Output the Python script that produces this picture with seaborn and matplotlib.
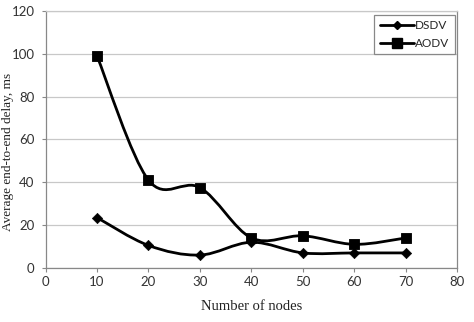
import numpy as np
import pandas as pd
import matplotlib
matplotlib.use("Agg")
import matplotlib.pyplot as plt
from matplotlib.path import Path
from matplotlib.patches import PathPatch
from matplotlib.lines import Line2D
import seaborn as sns

nodes = [10, 20, 30, 40, 50, 60, 70]
dsdv = [23.5, 10.5, 6.0, 12.0, 7.0, 7.0, 7.0]
aodv = [99.0, 41.0, 37.5, 14.0, 15.0, 11.0, 14.0]
x_ticks = [0, 10, 20, 30, 40, 50, 60, 70, 80]
y_ticks = [0, 20, 40, 60, 80, 100, 120]

df = pd.DataFrame({
    "nodes": nodes * 2,
    "delay": dsdv + aodv,
    "protocol": ["DSDV"] * len(nodes) + ["AODV"] * len(nodes),
})

sns.set_theme(style="white")
tick_font = ["Lato", "DejaVu Sans"]
label_font = ["Liberation Serif", "DejaVu Serif"]

fig = plt.figure(figsize=(4.74, 3.22), dpi=100)
ax = fig.add_axes([0.096, 0.168, 0.869, 0.798])


def smooth_path(xs, ys):
    # Excel-style smoothed line: cubic Bezier segments between data points
    pts = np.column_stack([xs, ys]).astype(float)
    n = len(pts)
    verts = [pts[0]]
    codes = [Path.MOVETO]
    for i in range(n - 1):
        p0 = pts[i - 1] if i > 0 else pts[i]
        p1 = pts[i]
        p2 = pts[i + 1]
        p3 = pts[i + 2] if i + 2 < n else pts[i + 1]
        c1 = p1 + (p2 - p0) / 6.0
        c2 = p2 - (p3 - p1) / 6.0
        verts += [c1, c2, p2]
        codes += [Path.CURVE4] * 3
    return Path(verts, codes)


for name, vals in [("DSDV", dsdv), ("AODV", aodv)]:
    patch = PathPatch(smooth_path(nodes, vals), facecolor="none",
                      edgecolor="black", lw=2.0, zorder=3,
                      transform=ax.transData)
    ax.add_patch(patch)

sub_d = df[df.protocol == "DSDV"]
sub_a = df[df.protocol == "AODV"]
sns.scatterplot(data=sub_d, x="nodes", y="delay", marker="D", s=28,
                color="black", edgecolor="black", ax=ax, zorder=4, legend=False)
sns.scatterplot(data=sub_a, x="nodes", y="delay", marker="s", s=60,
                color="black", edgecolor="black", ax=ax, zorder=4, legend=False)

ax.set_xlim(0, 80)
ax.set_ylim(0, 120)
ax.set_xticks(x_ticks)
ax.set_yticks(y_ticks)
ax.set_xticklabels([str(t) for t in x_ticks], family=tick_font, fontsize=9.5, color="#333333")
ax.set_yticklabels([str(t) for t in y_ticks], family=tick_font, fontsize=9.5, color="#333333")
ax.tick_params(axis="x", which="major", direction="out", length=3,
               width=0.8, color="#888888", bottom=True, pad=3)
ax.tick_params(axis="y", which="major", direction="out", length=3,
               width=0.8, color="#888888", left=True, pad=5)

ax.yaxis.grid(True, color="#c8c8c8", lw=0.9)
ax.xaxis.grid(False)
for s in ["left", "bottom", "right", "top"]:
    ax.spines[s].set_visible(True)
    ax.spines[s].set_color("#888888")
    ax.spines[s].set_linewidth(0.9)
ax.spines["top"].set_color("#c8c8c8")

ax.set_xlabel("Number of nodes", family=label_font, fontsize=10.5, color="#222222")
ax.set_ylabel("Average end-to-end delay, ms", family=label_font, fontsize=9.5, color="#222222")
ax.xaxis.set_label_coords(0.5, -0.125)
ax.yaxis.set_label_coords(-0.077, 0.45)

handles = [
    Line2D([], [], color="black", lw=2.0, marker="D", ms=4.0),
    Line2D([], [], color="black", lw=2.0, marker="s", ms=6.5),
]
leg = ax.legend(handles, ["DSDV", "AODV"], loc="upper right",
                bbox_to_anchor=(0.993, 0.984), borderaxespad=0, frameon=True,
                fancybox=False, edgecolor="#888888", framealpha=1,
                handlelength=2.9, handletextpad=0.1, borderpad=0.45,
                labelspacing=0.55, prop={"family": tick_font, "size": 8.5})
leg.get_frame().set_linewidth(0.9)

fig.savefig("out.png", dpi=100)
